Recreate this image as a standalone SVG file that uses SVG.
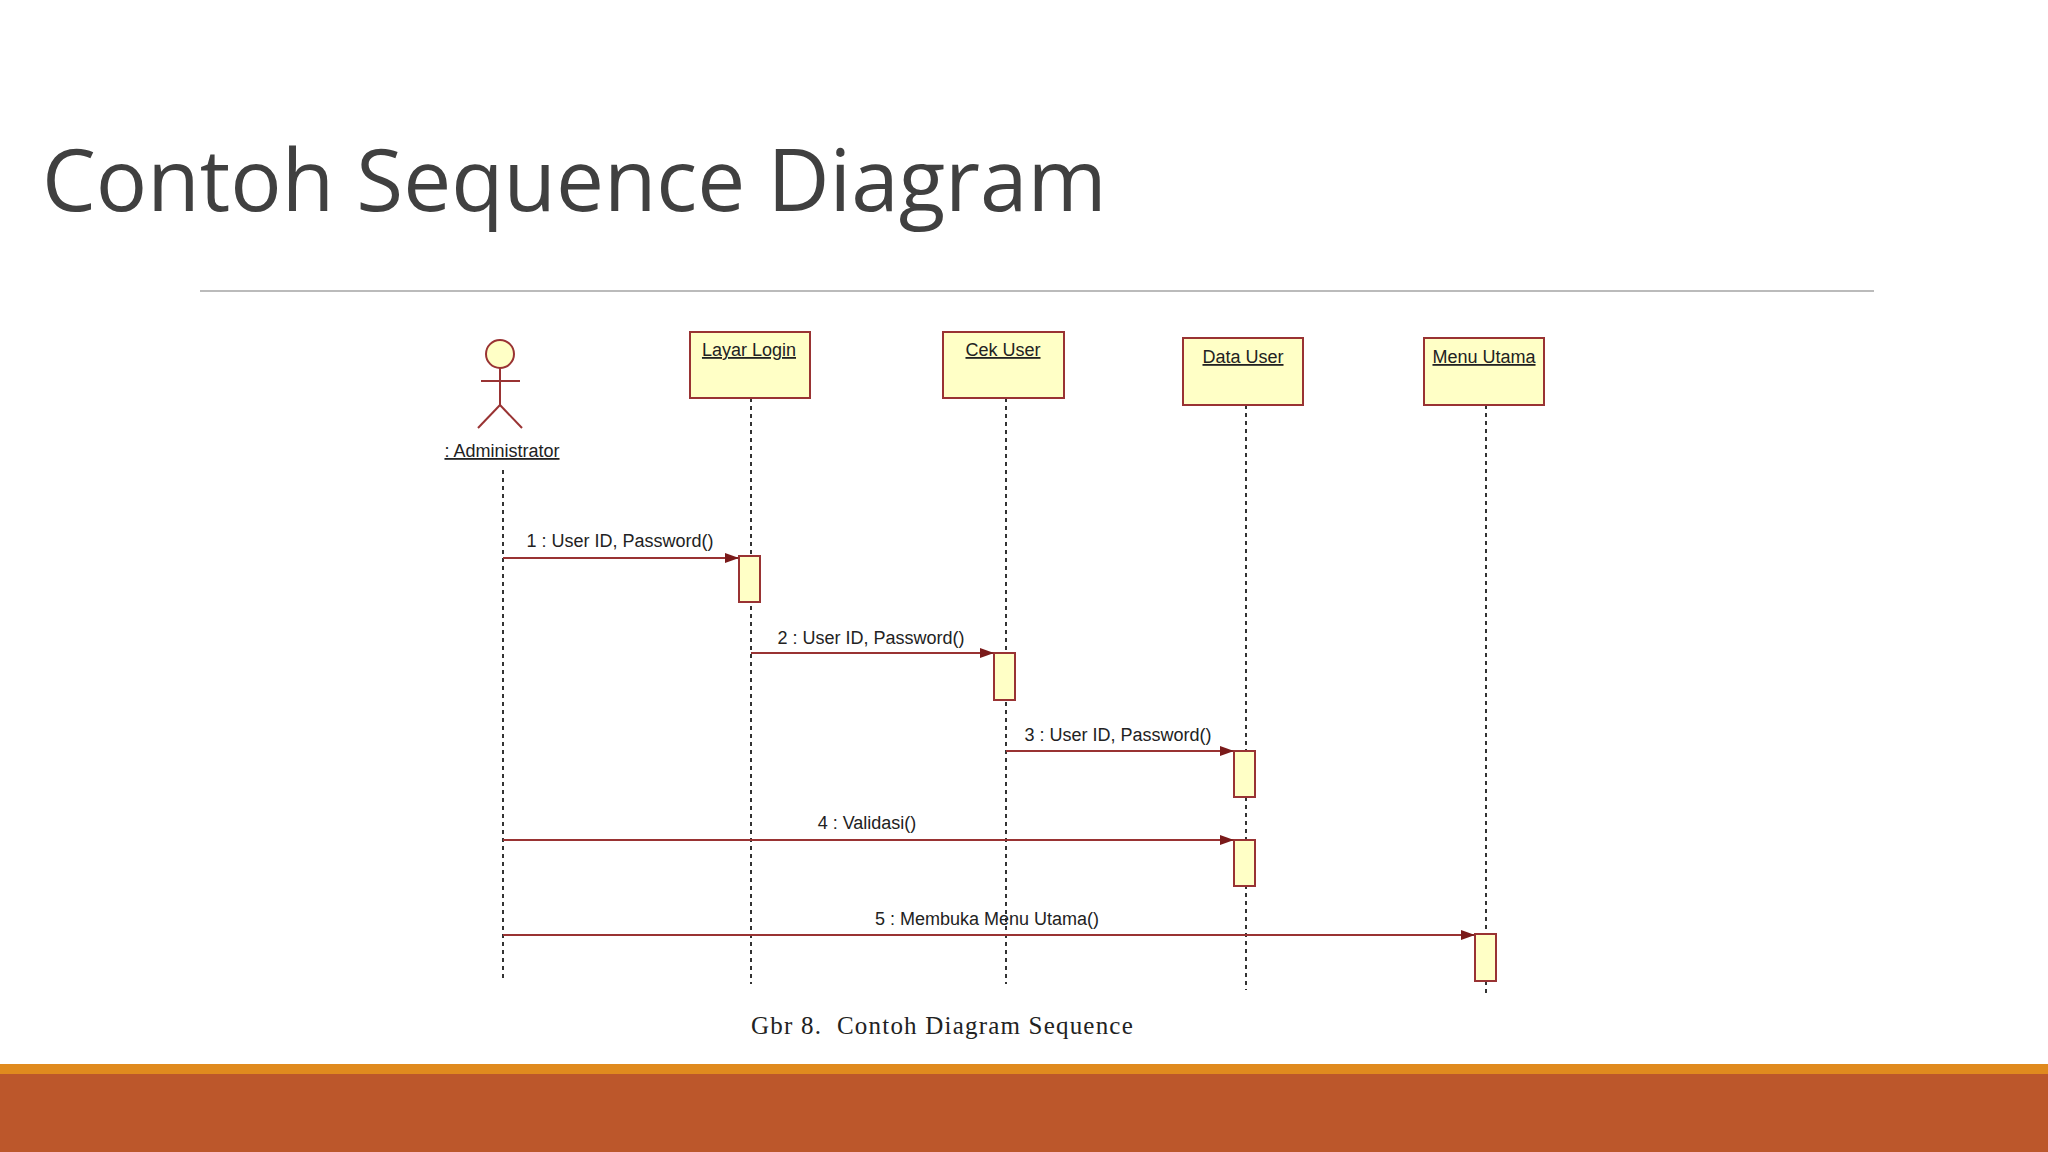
<svg xmlns="http://www.w3.org/2000/svg" width="2048" height="1152" viewBox="0 0 2048 1152">
<style>
.box{fill:#ffffc6;stroke:#993333;stroke-width:2}
.act{fill:#ffffc6;stroke:#993333;stroke-width:2}
.life{stroke:#333;stroke-width:2;stroke-dasharray:4,4;fill:none}
.msg{stroke:#993333;stroke-width:2;fill:none;marker-end:url(#ah)}
.lbl{font-family:"Liberation Sans",Arial,sans-serif;font-size:18px;fill:#222;text-anchor:middle}
.nm{font-family:"Liberation Sans",Arial,sans-serif;font-size:18px;fill:#222;text-anchor:middle;text-decoration:underline}
</style>
<defs>
<marker id="ah" markerWidth="14" markerHeight="10" refX="14" refY="5" orient="auto" markerUnits="userSpaceOnUse">
<path d="M0,0 L14,5 L0,10 Z" fill="#7a1a1a"/>
</marker>
</defs>
<rect width="2048" height="1152" fill="#fff"/>
<text x="42" y="211" font-family="Open Sans,'Noto Sans',sans-serif" font-size="85.5" fill="#404040">Contoh Sequence Diagram</text>
<line x1="200" y1="291" x2="1874" y2="291" stroke="#bbb" stroke-width="2"/>
<g id="lifelines">
<line class="life" x1="503" y1="470" x2="503" y2="982"/>
<line class="life" x1="751" y1="398" x2="751" y2="984"/>
<line class="life" x1="1006" y1="398" x2="1006" y2="984"/>
<line class="life" x1="1246" y1="405" x2="1246" y2="990"/>
<line class="life" x1="1486" y1="405" x2="1486" y2="993"/>
</g>
<g id="admin" stroke="#993333" stroke-width="2" fill="none">
<circle cx="500" cy="354" r="14" fill="#ffffc6"/>
<line x1="500" y1="368" x2="500" y2="405"/>
<line x1="481" y1="381" x2="520" y2="381"/>
<line x1="500" y1="405" x2="478" y2="428"/>
<line x1="500" y1="405" x2="522" y2="428"/>
<text class="nm" x="502" y="457" stroke="none">: Administrator</text>
</g>
<g id="layar"><rect class="box" x="690" y="332" width="120" height="66"/><text class="nm" x="749" y="356">Layar Login</text></g>
<g id="cek"><rect class="box" x="943" y="332" width="121" height="66"/><text class="nm" x="1003" y="356">Cek User</text></g>
<g id="data"><rect class="box" x="1183" y="338" width="120" height="67"/><text class="nm" x="1243" y="363">Data User</text></g>
<g id="menu"><rect class="box" x="1424" y="338" width="120" height="67"/><text class="nm" x="1484" y="363">Menu Utama</text></g>
<g id="activations">
<rect class="act" x="739" y="556" width="21" height="46"/>
<rect class="act" x="994" y="653" width="21" height="47"/>
<rect class="act" x="1234" y="751" width="21" height="46"/>
<rect class="act" x="1234" y="840" width="21" height="46"/>
<rect class="act" x="1475" y="934" width="21" height="47"/>
</g>
<g id="connectors">
<line class="msg" x1="503" y1="558" x2="739" y2="558"/>
<line class="msg" x1="751" y1="653" x2="994" y2="653"/>
<line class="msg" x1="1006" y1="751" x2="1234" y2="751"/>
<line class="msg" x1="503" y1="840" x2="1234" y2="840"/>
<line class="msg" x1="503" y1="935" x2="1475" y2="935"/>
<text class="lbl" x="620" y="547">1 : User ID, Password()</text>
<text class="lbl" x="871" y="644">2 : User ID, Password()</text>
<text class="lbl" x="1118" y="741">3 : User ID, Password()</text>
<text class="lbl" x="867" y="829">4 : Validasi()</text>
<text class="lbl" x="987" y="925">5 : Membuka Menu Utama()</text>
</g>
<text x="751" y="1034" font-family="Liberation Serif,serif" font-size="25" letter-spacing="1.2" fill="#222" xml:space="preserve">Gbr 8.  Contoh Diagram Sequence</text>
<rect x="0" y="1064" width="2048" height="10" fill="#e08a1e"/>
<rect x="0" y="1074" width="2048" height="78" fill="#bc572b"/>
</svg>
